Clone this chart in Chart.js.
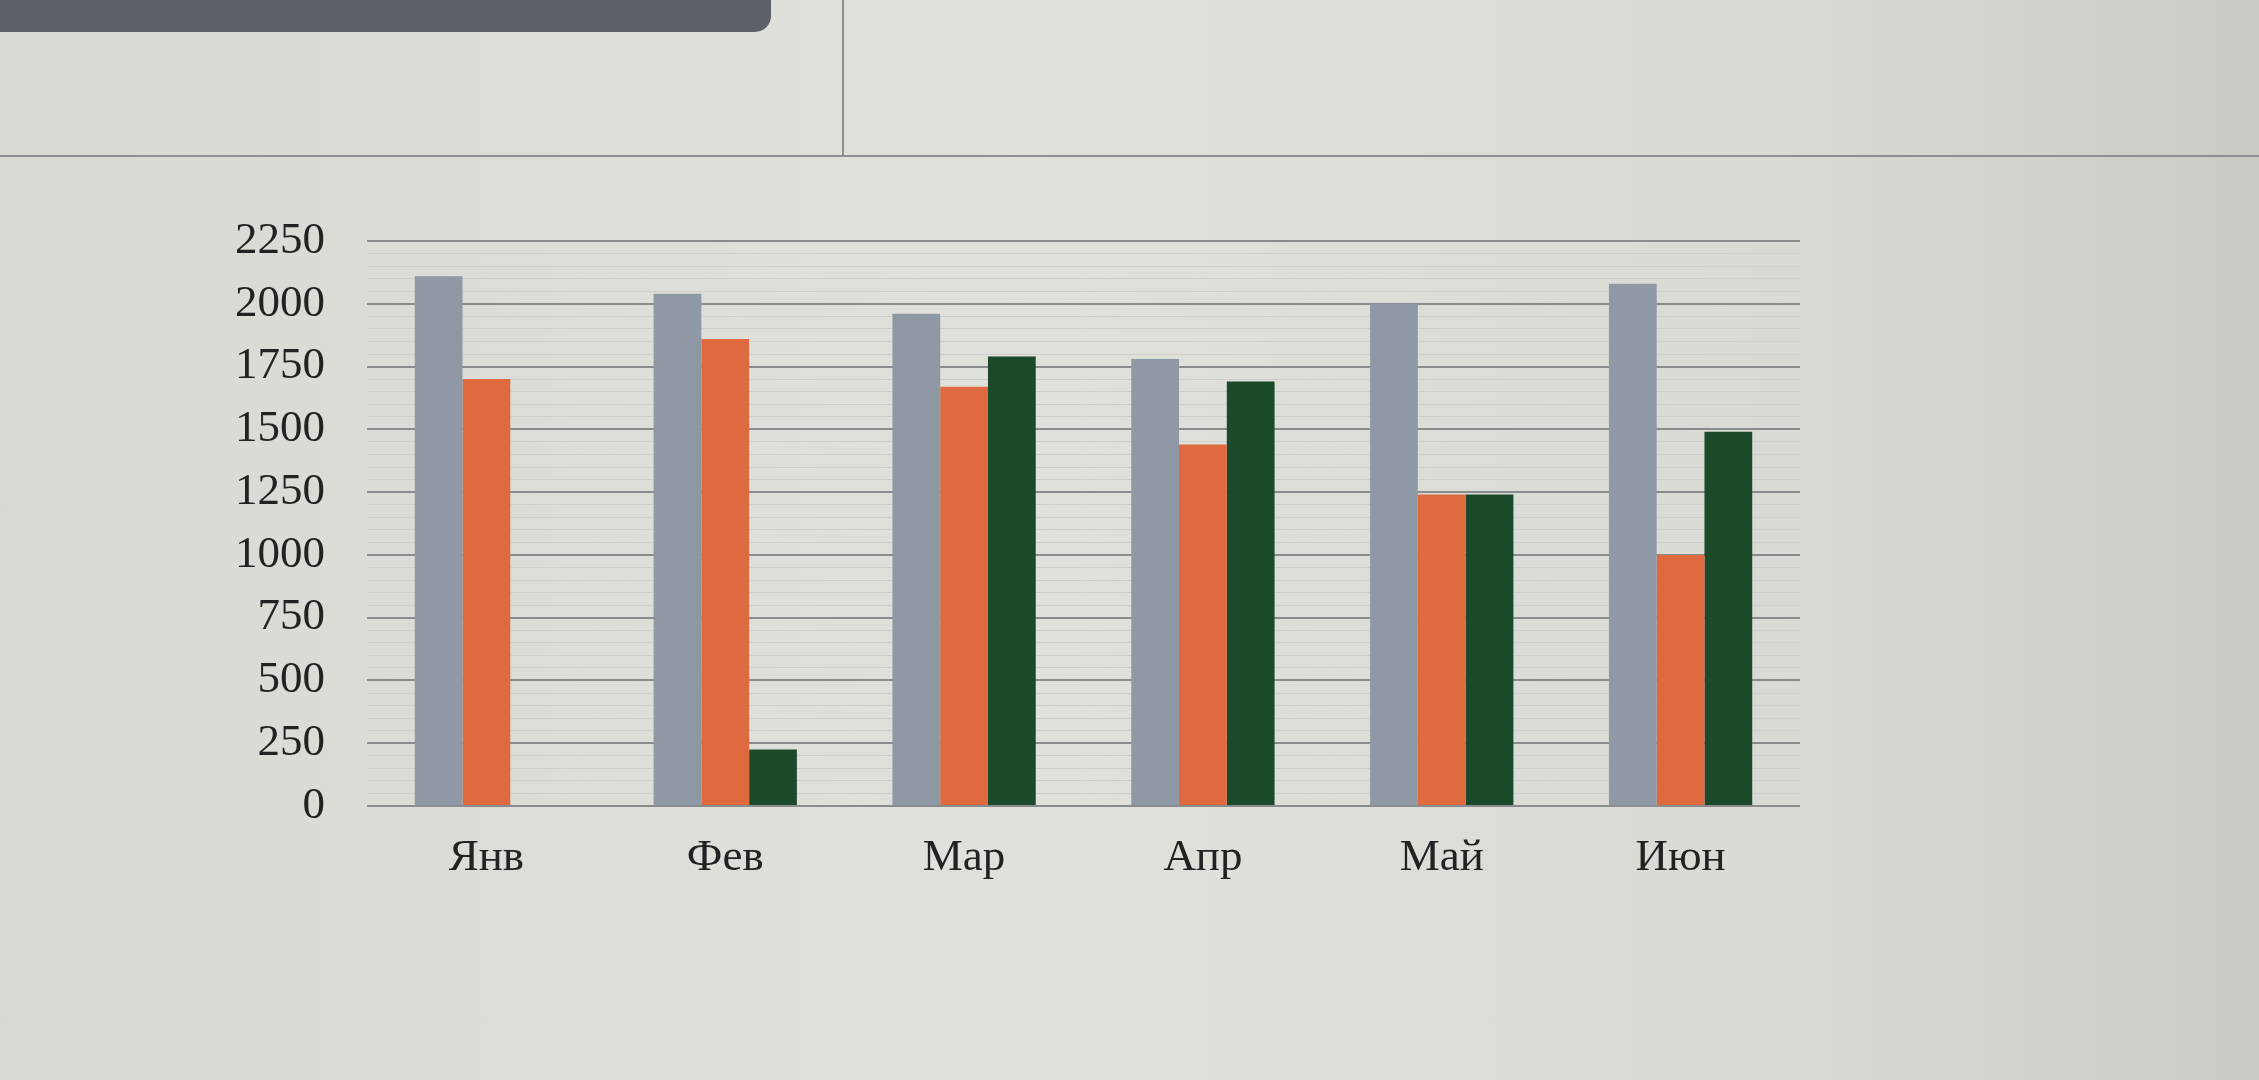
<!DOCTYPE html>
<html>
<head>
<meta charset="utf-8">
<script src="https://cdn.jsdelivr.net/npm/chart.js@4/dist/chart.umd.min.js"></script>
<style>
    html, body {
        margin: 0;
        padding: 0;
        width: 2259px;
        height: 1080px;
        overflow: hidden;
        background: linear-gradient(90deg, #d9d9d3 0%, #e1e1db 45%, #dadad4 80%, #cbcbc5 100%);
    }
    #topBar {
        position: absolute;
        left: 0;
        top: 0;
        width: 771px;
        height: 32px;
        background: #5c6168;
        border-bottom-right-radius: 16px;
    }
    #vLine {
        position: absolute;
        left: 842px;
        top: 0;
        width: 2px;
        height: 156px;
        background: #8d8f90;
    }
    #hLine {
        position: absolute;
        left: 0;
        top: 155px;
        width: 2259px;
        height: 2px;
        background: #8d8f90;
    }
    #myChart {
        position: absolute;
        left: 0;
        top: 0;
    }
</style>
</head>
<body>
<div id="topBar"></div>
<div id="vLine"></div>
<div id="hLine"></div>
<canvas id="myChart" width="2259" height="1080"></canvas>
<script>
const months = ['Янв', 'Фев', 'Мар', 'Апр', 'Май', 'Июн'];
const seriesGray = [2110, 2040, 1960, 1780, 2000, 2080];
const seriesOrange = [1700, 1860, 1670, 1440, 1240, 1000];
const seriesGreen = [null, 225, 1790, 1690, 1240, 1490];

const yMin = 0;
const yMax = 2250;
const minorStep = 50;
const majorStep = 250;

const labelFont = { family: "'Liberation Serif', 'DejaVu Serif', serif", size: 45 };

const ctx = document.getElementById('myChart').getContext('2d');
const chart = new Chart(ctx, {
    type: 'bar',
    data: {
        labels: months,
        datasets: [{
            label: 'Ряд 1',
            data: seriesGray,
            backgroundColor: '#8e99a5'
        }, {
            label: 'Ряд 2',
            data: seriesOrange,
            backgroundColor: '#df6a3f'
        }, {
            label: 'Ряд 3',
            data: seriesGreen,
            backgroundColor: '#1b4a2b'
        }]
    },
    options: {
        responsive: false,
        animation: false,
        categoryPercentage: 0.6,
        barPercentage: 1.0,
        layout: {
            padding: { left: 0, top: 241, right: 459, bottom: 174 }
        },
        plugins: {
            legend: { display: false },
            tooltip: { enabled: false }
        },
        scales: {
            x: {
                grid: { display: false, drawTicks: false },
                border: { display: false },
                ticks: {
                    color: '#222',
                    font: labelFont,
                    padding: 25,
                    maxRotation: 0
                },
                afterFit: (scale) => { scale.height = 100; }
            },
            y: {
                min: yMin,
                max: yMax,
                border: { display: false },
                grid: {
                    drawTicks: false,
                    color: (c) => (c.tick && c.tick.value % majorStep === 0) ? '#8a8b8c' : '#cdcecd',
                    lineWidth: (c) => (c.tick && c.tick.value % majorStep === 0) ? 2 : 1
                },
                ticks: {
                    stepSize: minorStep,
                    autoSkip: false,
                    color: '#222',
                    font: labelFont,
                    padding: 42,
                    callback: (value) => value % majorStep === 0 ? value : ''
                },
                afterFit: (scale) => { scale.width = 367; }
            }
        }
    }
});
</script>
</body>
</html>
